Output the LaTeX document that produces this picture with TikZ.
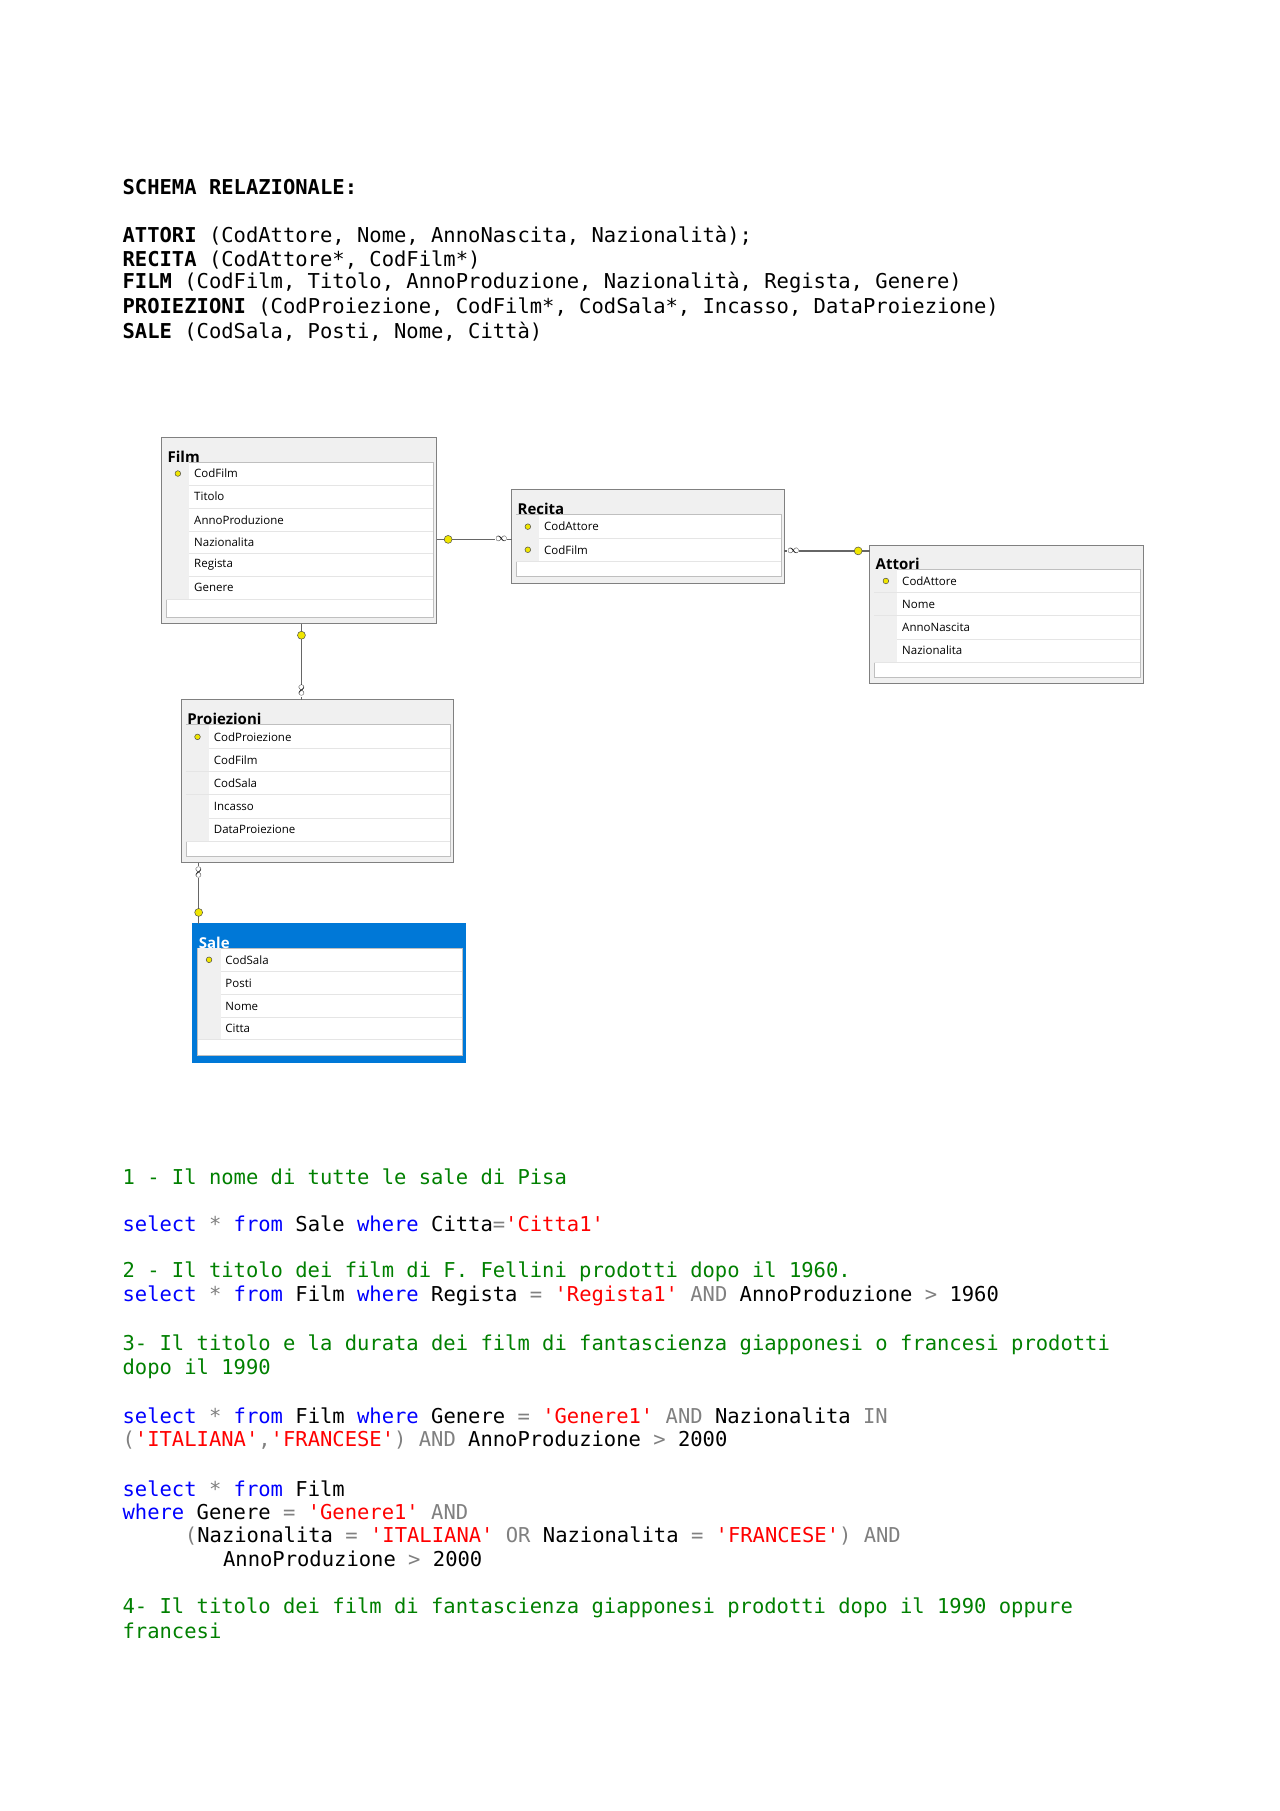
\documentclass[tikz,border=0pt]{standalone}
\usepackage{fontspec}
\setmainfont{Open Sans}
\newfontfamily\mono{DejaVu Sans Mono}
\definecolor{qg}{RGB}{0,128,0}
\definecolor{qb}{RGB}{0,0,255}
\definecolor{qr}{RGB}{255,0,0}
\definecolor{qgr}{RGB}{128,128,128}
\definecolor{hdr}{RGB}{240,240,240}
\definecolor{selb}{RGB}{0,120,215}
\definecolor{keyy}{RGB}{240,230,0}
\tikzset{
 code/.style={anchor=west,inner sep=0pt,font=\mono\fontsize{20.5}{24}\selectfont},
 fld/.style={anchor=west,inner sep=0pt,font=\fontsize{11.5}{13}\selectfont},
 ttl/.style={anchor=south west,inner sep=0pt,font=\bfseries\fontsize{15}{17}\selectfont},
 rel/.style={draw=gray!80!black,line width=1.2pt},
 keysym/.style={fill=keyy,draw=black!70,line width=0.5pt,circle,inner sep=2.8pt},
 inf/.style={inner sep=0pt,font=\fontsize{12}{12}\selectfont}
}
\newcommand\dbbox[8]{%
 \fill[#7] (#1,#2) rectangle (#3,#4);
 \draw[#6,line width=1pt] (#1,#2) rectangle (#3,#4);
 \fill[white] (#1+4,#2+21) rectangle (#3-3,#4-6);
 \draw[gray!50] (#1+4,#2+21) rectangle (#3-3,#4-6);
 \node[ttl,text=#8] at (#1+5,#2+21.5) {#5};
}
\newcommand\dbrow[5]{%
 \fill[hdr] (#1+4,#3-10) rectangle (#1+24,#3+10);
 \draw[gray!20] (#1+4,#3+10) -- (#2-3,#3+10);
 \node[fld] at (#1+28,#3) {#4};
 \ifx#5k\node[keysym,inner sep=2pt] at (#1+14,#3) {};\fi
}
\begin{document}
\begin{tikzpicture}[x=1.155pt,y=-1.155pt]
\useasboundingbox[fill=white] (0,0) rectangle (1108.2,1568);
\node[code] (s0) at (106,162) {\bfseries SCHEMA RELAZIONALE:};
\node[code] (s1) at (106,204) {\bfseries ATTORI\mdseries{} (CodAttore, Nome, AnnoNascita, Nazionalità);};
\node[code] (s2) at (106,225) {\bfseries RECITA\mdseries{} (CodAttore*, CodFilm*)};
\node[code] (s3) at (106,245) {\bfseries FILM\mdseries{} (CodFilm, Titolo, AnnoProduzione, Nazionalità, Regista, Genere)};
\node[code] (s4) at (106,266) {\bfseries PROIEZIONI\mdseries{} (CodProiezione, CodFilm*, CodSala*, Incasso, DataProiezione)};
\node[code] (s5) at (106,287) {\bfseries SALE\mdseries{} (CodSala, Posti, Nome, Città)};
\dbbox{140}{379}{378}{540}{Film}{gray}{hdr}{black}
\dbrow{140}{378}{410}{CodFilm}{k}
\dbrow{140}{378}{430}{Titolo}{n}
\dbrow{140}{378}{450}{AnnoProduzione}{n}
\dbrow{140}{378}{469}{Nazionalita}{n}
\dbrow{140}{378}{489}{Regista}{n}
\dbrow{140}{378}{509}{Genere}{n}
\dbbox{443}{424}{679}{505}{Recita}{gray}{hdr}{black}
\dbrow{443}{679}{456}{CodAttore}{k}
\dbrow{443}{679}{476}{CodFilm}{k}
\dbbox{753}{472}{990}{592}{Attori}{gray}{hdr}{black}
\dbrow{753}{990}{503}{CodAttore}{k}
\dbrow{753}{990}{523}{Nome}{n}
\dbrow{753}{990}{543}{AnnoNascita}{n}
\dbrow{753}{990}{563}{Nazionalita}{n}
\dbbox{157}{606}{393}{747}{Proiezioni}{gray}{hdr}{black}
\dbrow{157}{393}{638}{CodProiezione}{k}
\dbrow{157}{393}{658}{CodFilm}{n}
\dbrow{157}{393}{678}{CodSala}{n}
\dbrow{157}{393}{698}{Incasso}{n}
\dbrow{157}{393}{718}{DataProiezione}{n}
\dbbox{167}{800}{403}{920}{Sale}{selb}{selb}{white}
\dbrow{167}{403}{831}{CodSala}{k}
\dbrow{167}{403}{851}{Posti}{n}
\dbrow{167}{403}{871}{Nome}{n}
\dbrow{167}{403}{890}{Citta}{n}
\coordinate (fR) at (378,467); \coordinate (rL) at (443,467);
\coordinate (rR) at (679,477); \coordinate (aL) at (753,477);
\coordinate (fB) at (261,540); \coordinate (pT) at (261,606);
\coordinate (pB) at (172,747); \coordinate (sT) at (172,800);
\draw[rel] (fR) -- (rL);
\draw[rel] (rR) -- (aL);
\draw[rel] (fB) -- (pT);
\draw[rel] (pB) -- (sT);
\node[keysym] (k1) at (388,467) {};
\node[keysym] (k2) at (743,477) {};
\node[keysym] (k3) at (261,550) {};
\node[keysym] (k4) at (172,790) {};
\node[inf,fill=white] (i1) at (434,467) {$\infty$};
\node[inf,fill=white] (i2) at (687,477) {$\infty$};
\node[inf,fill=white,rotate=90] (i3) at (261,598) {$\infty$};
\node[inf,fill=white,rotate=90] (i4) at (172,755) {$\infty$};
\node[code,text=qg] (q1) at (106,1019) {1 - Il nome di tutte le sale di Pisa};
\node[code] (q1s) at (106,1060) {\color{qb}select \color{qgr}* \color{qb}from \color{black}Sale \color{qb}where \color{black}Citta\color{qgr}=\color{qr}'Citta1'};
\node[code,text=qg] (q2) at (106,1101) {2 - Il titolo dei film di F. Fellini prodotti dopo il 1960.};
\node[code] (q2s) at (106,1122) {\color{qb}select \color{qgr}* \color{qb}from \color{black}Film \color{qb}where \color{black}Regista \color{qgr}= \color{qr}'Regista1' \color{qgr}AND \color{black}AnnoProduzione \color{qgr}> \color{black}1960};
\node[code,text=qg] (q3) at (106,1164) {3- Il titolo e la durata dei film di fantascienza giapponesi o francesi prodotti};
\node[code,text=qg] (q3b) at (106,1185) {dopo il 1990};
\node[code] (q3s) at (106,1226) {\color{qb}select \color{qgr}* \color{qb}from \color{black}Film \color{qb}where \color{black}Genere \color{qgr}= \color{qr}'Genere1' \color{qgr}AND \color{black}Nazionalita \color{qgr}IN};
\node[code] (q3t) at (106,1247) {\color{qgr}(\color{qr}'ITALIANA'\color{qgr},\color{qr}'FRANCESE'\color{qgr}) AND \color{black}AnnoProduzione \color{qgr}> \color{black}2000};
\node[code] (q3u) at (106,1289) {\color{qb}select \color{qgr}* \color{qb}from \color{black}Film};
\node[code] (q3v) at (106,1309) {\color{qb}where \color{black}Genere \color{qgr}= \color{qr}'Genere1' \color{qgr}AND};
\node[code] (q3w) at (160,1330) {\color{qgr}(\color{black}Nazionalita \color{qgr}= \color{qr}'ITALIANA' \color{qgr}OR \color{black}Nazionalita \color{qgr}= \color{qr}'FRANCESE'\color{qgr}) AND};
\node[code] (q3x) at (193,1350) {AnnoProduzione \color{qgr}> \color{black}2000};
\node[code,text=qg] (q4) at (106,1392) {4- Il titolo dei film di fantascienza giapponesi prodotti dopo il 1990 oppure};
\node[code,text=qg] (q4b) at (106,1412) {francesi};
\end{tikzpicture}
\end{document}
